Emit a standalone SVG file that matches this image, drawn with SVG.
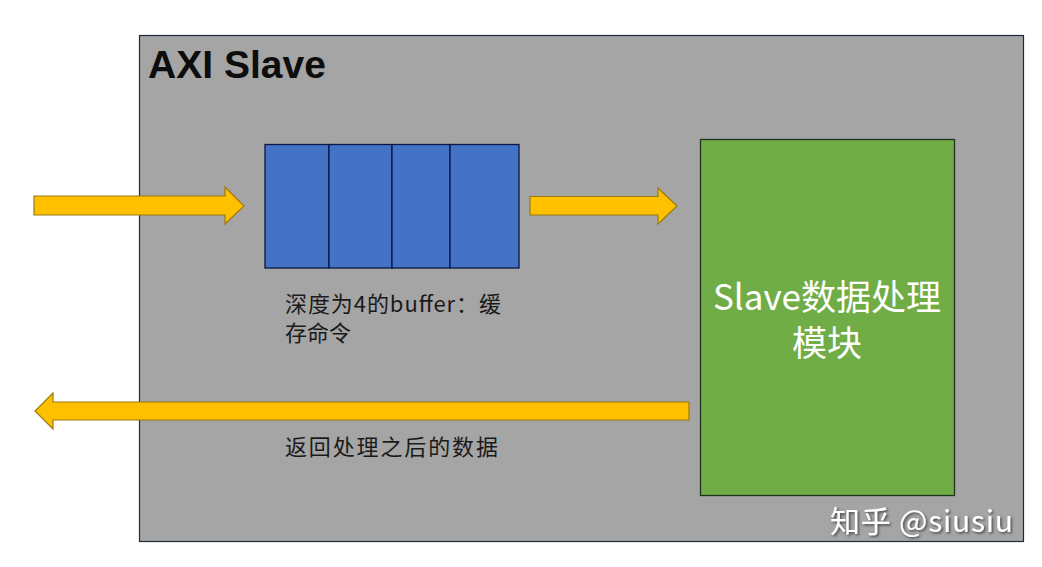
<svg xmlns="http://www.w3.org/2000/svg" width="1042" height="567" viewBox="0 0 1042 567">
<style>
.arrow{fill:#ffc000;stroke:#9c7a10;stroke-width:1.2}
.cell{fill:#4472c4;stroke:#0c1646;stroke-width:1.3}
.lbl{font-family:"Noto Sans CJK SC","Noto Sans",sans-serif;fill:#1a1a1a}
</style>
<defs>
<filter id="sh" x="-10%" y="-10%" width="120%" height="130%"><feDropShadow dx="1.5" dy="1.5" stdDeviation="0.8" flood-color="#333" flood-opacity="0.8"/></filter>
</defs>
<rect width="1042" height="567" fill="#ffffff"/>
<g id="axi-slave">
<rect x="139.5" y="35.5" width="884" height="506" fill="#a5a5a5" stroke="#1e2a36" stroke-width="1.2"/>
<text x="148" y="78" font-family="Liberation Sans, Arial, sans-serif" font-weight="bold" font-size="39" fill="#0d0d0d" textLength="178" lengthAdjust="spacingAndGlyphs">AXI Slave</text>
</g>
<g id="buffer">
<rect class="cell" x="265" y="144.5" width="64" height="123.5"/>
<rect class="cell" x="329" y="144.5" width="63" height="123.5"/>
<rect class="cell" x="392" y="144.5" width="58" height="123.5"/>
<rect class="cell" x="450" y="144.5" width="69" height="123.5"/>
</g>
<g id="buffer-label">
<text class="lbl" x="285" y="312" font-size="22" textLength="216">深度为4的buffer：缓</text>
<text class="lbl" x="285" y="341" font-size="22">存命令</text>
</g>
<g id="slave-proc">
<rect x="700.5" y="139.5" width="254" height="356" fill="#70ad47" stroke="#1e3320" stroke-width="1.3"/>
<text x="827" y="310" text-anchor="middle" font-family="Noto Sans CJK SC, Noto Sans, sans-serif" font-size="35" fill="#ffffff">Slave数据处理</text>
<text x="827" y="356" text-anchor="middle" font-family="Noto Sans CJK SC, Noto Sans, sans-serif" font-size="35" fill="#ffffff">模块</text>
</g>
<g id="connectors">
<path class="arrow" d="M34,196 L225,196 L225,187 L244,206 L225,224 L225,215 L34,215 Z"/>
<path class="arrow" d="M530,196.5 L658,196.5 L658,188 L677,206 L658,224 L658,215 L530,215 Z"/>
<path class="arrow" d="M689,402 L53,402 L53,393 L35,411 L53,429 L53,420 L689,420 Z"/>
</g>
<g id="return-label">
<text class="lbl" x="285" y="455" font-size="22" textLength="213">返回处理之后的数据</text>
</g>
<g id="watermark">
<text x="830" y="532" font-family="Noto Sans CJK SC, Noto Sans, sans-serif" font-size="30" fill="#ffffff" filter="url(#sh)" textLength="183">知乎 @siusiu</text>
</g>
</svg>
